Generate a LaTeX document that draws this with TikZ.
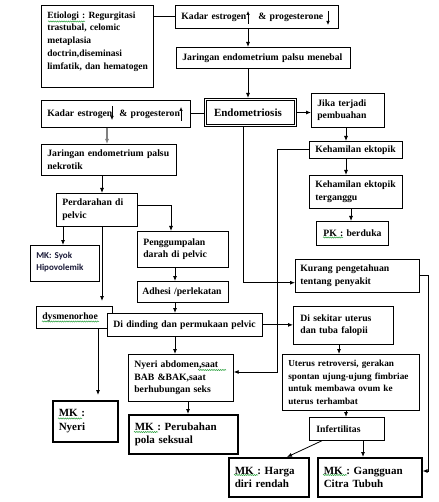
\documentclass[tikz,border=0pt]{standalone}
\usepackage{fontspec}
\setmainfont{Liberation Serif}
\newfontfamily\carlitofont{Carlito}
\usetikzlibrary{arrows.meta,decorations.pathmorphing}
\begin{document}
\frenchspacing
\hyphenpenalty=10000
\exhyphenpenalty=10000
\begin{tikzpicture}[x=1pt,y=-1pt,
  box/.style={draw, fill=white, line width=0.7pt, anchor=north west, align=left,
    inner xsep=6pt, inner ysep=1pt, font=\frenchspacing\bfseries\fontsize{9.7}{12.5}\selectfont},
  mkbox/.style={box, line width=1.6pt, font=\frenchspacing\bfseries\fontsize{11}{13.5}\selectfont},
  dbox/.style={box, double, double distance=1.6pt, line width=0.7pt, outer sep=1.5pt,
    font=\bfseries\fontsize{11}{13}\selectfont},
  ln/.style={line width=0.8pt},
  arr/.style={line width=0.8pt, -{Latex[length=5pt,width=4pt]}},
  tiny/.style={line width=0.7pt, -{Latex[length=4pt,width=3.6pt]}},
  squig/.style={draw={rgb,255:red,40;green,160;blue,60}, line width=0.5pt, decorate,
    decoration={snake, amplitude=0.6pt, segment length=2.2pt}},
]
\useasboundingbox (0,0) rectangle (438,502);

% left / top column
\node[box, minimum width=112pt, minimum height=82pt, text width=100pt, text depth=63pt,
  font=\frenchspacing\bfseries\fontsize{9.5}{12.8}\selectfont] (etio) at (41,5)
  {Etiologi : Regurgitasi\\ trastubal, celomic\\ metaplasia\\ doctrin,diseminasi\\ limfatik,~dan~hematogen};
\node[box, minimum width=163pt, minimum height=23pt, text width=151pt] (kadA) at (175,5)
  {Kadar estrogen\hspace*{12pt}\& progesterone};
\node[box, minimum width=174pt, minimum height=21pt, text width=162pt] (jarA) at (176,47)
  {Jaringan endometrium palsu menebal};
\node[dbox, minimum width=90pt, minimum height=26pt, text width=73pt, inner xsep=8.5pt] (endo) at (204,98)
  {Endometriosis};
\node[box, minimum width=73pt, minimum height=34pt, text width=61pt] (jika) at (311,93)
  {Jika terjadi\\ pembuahan};
\node[box, minimum width=93pt, minimum height=17pt, text width=81pt] (kehA) at (309,141)
  {Kehamilan~ektopik};
\node[box, minimum width=93pt, minimum height=33pt, text width=81pt] (kehB) at (309,175)
  {Kehamilan~ektopik\\ terganggu};
\node[box, minimum width=72pt, minimum height=24pt, text width=58pt, inner xsep=7pt] (pk) at (316,221)
  {PK~:~berduka};
\node[box, minimum width=124pt, minimum height=33pt, text width=114pt, inner xsep=5pt] (kur) at (295,259)
  {Kurang pengetahuan\\ tentang penyakit};
\node[box, minimum width=100pt, minimum height=38pt, text width=86pt, inner xsep=7pt] (sek) at (293,306)
  {Di sekitar uterus\\ dan tuba falopii};
\node[box, minimum width=137pt, minimum height=56pt, text width=125pt,
  font=\frenchspacing\bfseries\fontsize{9.2}{12.5}\selectfont] (ute) at (282,354)
  {Uterus retroversi, gerakan\\ spontan~ujung-ujung~fimbriae\\ untuk membawa ovum ke\\ uterus terhambat};
\node[box, minimum width=75pt, minimum height=23pt, text width=61pt, inner xsep=7pt] (inf) at (309,417)
  {Infertilitas};
\node[mkbox, minimum width=80pt, minimum height=39pt, text width=68pt] (harga) at (228,457)
  {MK~:~Harga\\ diri rendah};
\node[mkbox, minimum width=104pt, minimum height=39pt, text width=92pt] (citra) at (317,457)
  {MK~:~Gangguan\\ Citra Tubuh};

\node[box, minimum width=149pt, minimum height=27pt, text width=137pt] (kadB) at (41,100)
  {Kadar estrogen\hspace*{7pt}\& progesteron};
\node[box, minimum width=135pt, minimum height=31pt, text width=123pt] (jarB) at (41,144)
  {Jaringan~endometrium~palsu\\ nekrotik};
\node[box, minimum width=81pt, minimum height=33pt, text width=69pt] (perd) at (56,193)
  {Perdarahan~di\\ pelvic};
\node[box, minimum width=69pt, minimum height=36pt, text width=57pt, text depth=17pt,
  font=\frenchspacing\carlitofont\bfseries\fontsize{9}{12.3}\selectfont, text={rgb,255:red,25;green,25;blue,55}] (syok) at (30,245)
  {MK:~Syok\\ Hipovolemik};
\node[box, minimum width=91pt, minimum height=36pt, text width=79pt] (peng) at (137,231)
  {Penggumpalan\\ darah~di~pelvic};
\node[box, minimum width=91pt, minimum height=21pt, text width=81pt, inner xsep=5pt] (adh) at (137,281)
  {Adhesi~/perlekatan};
\node[box, minimum width=76pt, minimum height=22pt, text width=64pt] (dys) at (36,306)
  {dysmenorhoe};
\node[box, minimum width=155pt, minimum height=23pt, text width=143pt] (ding) at (107,313)
  {Di~dinding~dan~permukaan~pelvic};
\node[box, minimum width=105pt, minimum height=47pt, text width=93pt] (nyeri) at (128,354)
  {Nyeri~abdomen,saat\\ BAB~\&BAK,saat\\ berhubungan~seks};
\node[mkbox, minimum width=65pt, minimum height=41pt, text width=53pt] (mkny) at (52,400)
  {MK~:\\ Nyeri};
\node[mkbox, minimum width=109pt, minimum height=39pt, text width=97pt] (perub) at (128,414)
  {MK~:~Perubahan\\ pola seksual};

% arrows inside the hormone boxes
\draw[tiny] (248,24) -- (248,11);
\draw[tiny] (328,11) -- (328,25);
\draw[tiny] (112,106) -- (112,120);
\draw[tiny] (181,121) -- (181,107);

% spell-check squiggles
\draw[squig] ([xshift=7pt,yshift=-16.5pt]etio.north west) -- ++(37,0);
\draw[squig] ([xshift=6pt,yshift=-15.5pt]dys.north west) -- ++(57,0);
\draw[squig] ([xshift=7pt,yshift=-16.5pt]pk.north west) -- ++(20,0);
\draw[squig] ([xshift=70pt,yshift=-16pt]nyeri.north west) -- ++(28,0);
\draw[squig] ([xshift=6pt,yshift=-18.5pt]mkny.north west) -- ++(24,0);
\draw[squig] ([xshift=6pt,yshift=-18pt]perub.north west) -- ++(24,0);
\draw[squig] ([xshift=6pt,yshift=-18pt]harga.north west) -- ++(24,0);
\draw[squig] ([xshift=6pt,yshift=-18pt]citra.north west) -- ++(24,0);

% connectors
\coordinate (v1) at (277,0);
\coordinate (v2) at (428,0);
\draw[ln] (kadA.west -| etio.east) -- (kadA.west);
\draw[arr] ([xshift=73pt]kadA.south west) -- ([xshift=72pt]jarA.north west);
\draw[arr] ([xshift=72pt]jarA.south west) -- ([xshift=44pt]endo.north west);
\draw[arr] (endo.east) -- (endo.east -| jika.west);
\draw[ln] (kadB.east) -- (kadB.east -| endo.west);
\draw[arr] ([xshift=35pt]jika.south west) -- ([xshift=37pt]kehA.north west);
\draw[arr] ([xshift=37pt]kehA.south west) -- ([xshift=37pt]kehB.north west);
\draw[arr] ([xshift=42pt]kehB.south west) -- ([xshift=35pt]pk.north west);
\draw[arr] (kehA.west) -- (kehA.west -| v1) |- ([yshift=-18pt]nyeri.north east);
\draw[arr] ([xshift=39pt]endo.south west) |- ([yshift=10pt]kur.south west);
\draw[arr] (kur.east) -- (kur.east -| v2) |- ([yshift=-14pt]citra.north east);
\draw[arr] (ding.east) -- (ding.east -| sek.west);
\draw[arr] ([xshift=46pt]sek.south west) -- ([xshift=57pt]ute.north west);
\draw[arr] ([xshift=64pt]ute.south west) -- ([xshift=37pt]inf.north west);
\draw[arr] ([xshift=13pt]inf.south west) -- ([xshift=59pt]harga.north west);
\draw[arr] ([xshift=54pt]inf.south west) -- ([xshift=46pt]citra.north west);
\draw[arr, draw=gray, line width=1.3pt] ([xshift=66pt]kadB.south west) -- ([xshift=66pt]jarB.north west);
\draw[arr] ([xshift=61pt]jarB.south west) -- ([xshift=46pt]perd.north west);
\draw[arr] ([yshift=-12pt]perd.north east) -| ([xshift=34pt]peng.north west);
\draw[arr] ([xshift=7pt]perd.south west) -- ([xshift=33pt]syok.north west);
\draw[arr, shorten >=5pt] ([xshift=46pt]perd.south west) -- ([xshift=66pt]dys.north west);
\draw[arr] ([xshift=38pt]peng.south west) -- ([xshift=38pt]adh.north west);
\draw[arr] ([xshift=38pt]adh.south west) -- ([xshift=68pt]ding.north west);
\draw[arr] ([xshift=68pt]ding.south west) -- ([xshift=47pt]nyeri.north west);
\draw[arr] ([xshift=60pt]nyeri.south west) -- ([xshift=60pt]perub.north west);
\draw[arr, shorten >=5pt] ([xshift=62pt]dys.south west) -- ([xshift=46pt]mkny.north west);
\end{tikzpicture}
\end{document}
